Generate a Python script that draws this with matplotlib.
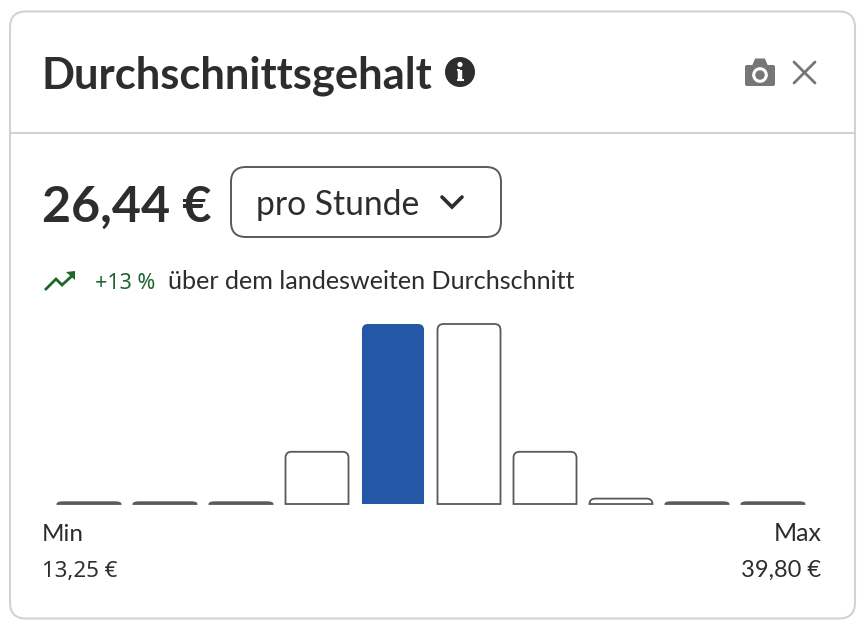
import matplotlib
matplotlib.use("Agg")
import matplotlib.pyplot as plt
from matplotlib.patches import FancyBboxPatch, PathPatch, Circle, Polygon
from matplotlib.path import Path

plt.rcParams["font.family"] = ["Lato", "DejaVu Sans"]

W, H = 868, 630
DARK = "#2d2d2d"
BORDER = "#d4d2d0"
STROKE = "#595959"
GREEN = "#1f662c"
BLUE = "#2557a7"
ICON = "#767676"

title = "Durchschnittsgehalt"
salary = "26,44 €"
period = "pro Stunde"
delta = "+13 %"
delta_text = "über dem landesweiten Durchschnitt"
min_label, min_value = "Min", "13,25 €"
max_label, max_value = "Max", "39,80 €"

# share of the tallest bar, in percent
bar_heights = [1, 1, 1, 29, 100, 100, 29, 3, 1, 1]
highlight = 4


def rounded_bar(x0, x1, h, rx, ry):
    # flat bottom, rounded top corners
    ry = min(ry, h)
    verts = [(x0, 0), (x0, h - ry), (x0, h), (x0 + rx, h), (x1 - rx, h), (x1, h), (x1, h - ry), (x1, 0), (x0, 0)]
    codes = [Path.MOVETO, Path.LINETO, Path.CURVE3, Path.CURVE3, Path.LINETO, Path.CURVE3, Path.CURVE3, Path.LINETO, Path.CLOSEPOLY]
    return Path(verts, codes)


fig = plt.figure(figsize=(W / 100, H / 100), dpi=100, facecolor="white")

# whole figure in pixel coordinates for the card around the chart
ax = fig.add_axes([0, 0, 1, 1])
ax.set_xlim(0, W)
ax.set_ylim(H, 0)
ax.axis("off")

ax.add_patch(FancyBboxPatch((10, 11.5), 845, 607, boxstyle="round,pad=0,rounding_size=16",
                            fc="white", ec=BORDER, lw=1.5))
ax.plot([10, 855], [133, 133], color=BORDER, lw=1.5, solid_capstyle="butt")

ax.text(41.2, 88, title, fontsize=31.3, fontweight="bold", color=DARK, ha="left", va="baseline")

# info icon
ax.add_patch(Circle((460, 72), 15, fc=DARK, ec="none"))
ax.add_patch(Circle((460, 64.5), 2.6, fc="white", ec="none", zorder=3))
ax.plot([460, 460], [70, 80], color="white", lw=3.2, solid_capstyle="butt", zorder=3)
ax.plot([456.5, 460], [70, 70], color="white", lw=1.5, solid_capstyle="butt", zorder=3)
ax.plot([456.5, 463.5], [80, 80], color="white", lw=1.5, solid_capstyle="butt", zorder=3)

# camera icon
ax.add_patch(FancyBboxPatch((745, 65), 30, 21, boxstyle="round,pad=0,rounding_size=2", fc=ICON, ec="none"))
ax.add_patch(Polygon([(752, 66), (755, 58.5), (765, 58.5), (768, 66)], fc=ICON, ec="none"))
ax.add_patch(Circle((760, 75), 6.3, fc="none", ec="white", lw=2.2, zorder=3))

# close icon
ax.plot([794, 815], [62, 83], color=ICON, lw=2, solid_capstyle="round")
ax.plot([794, 815], [83, 62], color=ICON, lw=2, solid_capstyle="round")

ax.text(42, 222, salary, fontsize=36.2, fontweight="bold", color=DARK, ha="left", va="baseline")

ax.add_patch(FancyBboxPatch((231, 167), 270, 70, boxstyle="round,pad=0,rounding_size=15",
                            fc="white", ec=STROKE, lw=1.4))
ax.text(256, 215, period, fontsize=24.2, color=DARK, ha="left", va="baseline")
ax.plot([442, 452, 462], [197, 207, 197], color=DARK, lw=2.6, solid_capstyle="round", solid_joinstyle="miter")

# trend arrow
ax.plot([46, 56, 62, 73], [289, 279, 285, 275], color=GREEN, lw=2, solid_joinstyle="miter")
ax.add_patch(Polygon([(66, 272), (75, 271), (75, 280)], fc=GREEN, ec="none"))

# Noto has the narrower digits these two need
ax.text(95, 289, delta, fontsize=15.5, color=GREEN, ha="left", va="baseline", family="Noto Sans")
ax.text(168, 289, delta_text, fontsize=18.1, color=DARK, ha="left", va="baseline")

ax.text(42, 541, min_label, fontsize=17.5, color=DARK, ha="left", va="baseline")
ax.text(42, 577, min_value, fontsize=16, color=DARK, ha="left", va="baseline", family="Noto Sans")
ax.text(822, 541, max_label, fontsize=18, color=DARK, ha="right", va="baseline")
ax.text(821, 577, max_value, fontsize=17, color=DARK, ha="right", va="baseline")

# bars: one x unit is one 76 px slot, 100 % is 180 px
left, bottom, width, height = 51, H - 504, 760, 180
bar_ax = fig.add_axes([left / W, bottom / H, width / W, height / H])
bar_ax.set_xlim(-0.5, 9.5)
bar_ax.set_ylim(0, 100)
bar_ax.axis("off")
bar_ax.patch.set_alpha(0)

half = 31.5 / 76
rx = 6 / 76
ry = 6 / 180 * 100
for i, value in enumerate(bar_heights):
    if i == highlight:
        bar_ax.add_patch(PathPatch(rounded_bar(i - half + 0.006, i + half - 0.006, value, rx, ry),
                                   fc=BLUE, ec="none", clip_on=False))
    else:
        bar_ax.add_patch(PathPatch(rounded_bar(i - half, i + half, value, rx, ry),
                                   fc="white", ec=STROKE, lw=1.3, clip_on=False))

fig.savefig("out.png", dpi=100)
